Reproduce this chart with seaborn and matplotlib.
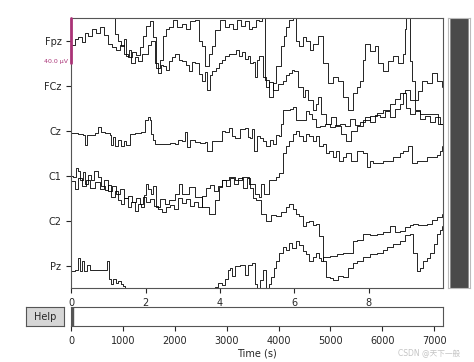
import numpy as np
import pandas as pd
import matplotlib
matplotlib.use('Agg')
import matplotlib.pyplot as plt
import seaborn as sns

# channel names, top to bottom
channels = ['Fpz', 'FCz', 'Cz', 'C1', 'C2', 'Pz']
scale_uv = 40.0          # one channel spacing = 40 uV
raw_duration = 7173      # seconds in the recording
view_window = (0, 10)    # seconds currently shown

# traces (time in s, amplitude in uV)
fpz_t = [0.00, 0.11, 0.19, 0.30, 0.38, 0.46, 0.56, 0.67, 0.78, 0.89, 0.99, 1.10, 1.21, 1.32, 1.42,
         1.53, 1.64, 1.75, 1.85, 1.94, 2.02, 2.12, 2.20, 2.28, 2.39, 2.47, 2.55, 2.63, 2.74, 2.85,
         2.98, 3.09, 3.20, 3.33, 3.44, 3.52, 3.60, 3.71, 3.79, 3.87, 4.01, 4.14, 4.25, 4.35, 4.46,
         4.57, 4.68, 4.78, 4.87, 4.97, 5.05, 5.13, 5.22, 5.32, 5.43, 5.51, 5.65, 5.73, 5.78, 5.86,
         5.97, 6.05, 6.13, 6.24, 6.32, 6.42, 6.51, 6.64, 6.77, 6.91, 7.04, 7.18, 7.31, 7.45, 7.58,
         7.69, 7.77, 7.85, 7.90, 8.04, 8.17, 8.25, 8.39, 8.52, 8.66, 8.79, 8.92, 8.98, 9.01, 9.06,
         9.11, 9.17, 9.25, 9.33, 9.44, 9.57, 9.70, 9.84, 9.97]
fpz_uv = [-4, 1, 3, -1, 7, 4, 10, 7, 12, 5, -3, -6, -8, -4, -12,
          -15, -10, -13, -6, 4, 13, 17, 3, -24, -17, 4, 10, 12, 18, 12,
          15, 10, 17, 18, 0, -5, -23, -12, -5, 9, 18, 12, 15, 10, 18,
          13, 17, 10, 12, 18, 17, 24, -35, -50, -38, -23, -5, 4, 12, 18,
          22, 0, -5, 3, 0, -8, -3, 4, -20, -38, -32, -36, -50, -62, -47,
          -41, -36, -17, -3, -9, -5, -20, -27, -18, -14, -20, -12, 10, 32, 32,
          -18, -36, -53, -45, -36, -38, -29, -36, -41]

fcz_t = [0.00, 0.24, 0.51, 0.78, 0.99, 1.05, 1.18, 1.26, 1.34, 1.42, 1.48, 1.56, 1.61, 1.72, 1.80,
         1.91, 1.99, 2.07, 2.15, 2.26, 2.34, 2.42, 2.47, 2.55, 2.63, 2.72, 2.80, 2.90, 2.98, 3.09,
         3.17, 3.25, 3.33, 3.44, 3.52, 3.60, 3.66, 3.74, 3.79, 3.90, 3.98, 4.06, 4.14, 4.25, 4.33,
         4.44, 4.52, 4.60, 4.68, 4.76, 4.81, 4.89, 4.95, 5.00, 5.05, 5.16, 5.24, 5.32, 5.43, 5.56,
         5.70, 5.78, 5.86, 5.94, 5.99, 6.10, 6.24, 6.29, 6.37, 6.51, 6.59, 6.64, 6.72, 6.85, 6.99,
         7.12, 7.26, 7.39, 7.53, 7.69, 7.85, 8.04, 8.23, 8.39, 8.58, 8.71, 8.84, 8.98, 9.11, 9.25,
         9.38, 9.57, 9.78, 9.87, 10.0]
fcz_uv = [72, 68, 76, 69, 66, 60, 46, 40, 35, 41, 26, 32, 20, 25, 22,
          28, 28, 36, 40, 20, 11, 18, 17, 14, 22, 25, 28, 23, 22, 18,
          13, 21, 20, 10, 4, 12, -4, 9, 13, 16, 20, 23, 26, 28, 28,
          32, 26, 30, 24, 26, 20, 21, 8, 23, 26, 8, -1, 3, -4, 1,
          4, 9, 11, 14, 13, -1, -10, -4, -13, -22, -16, -10, -25, -34, -28,
          -36, -43, -49, -40, -36, -31, -27, -24, -22, -16, -12, -7, -4, -13, -22,
          -25, -25, -25, -34, -34]

cz_t = [0.00, 0.19, 0.32, 0.38, 0.43, 0.51, 0.65, 0.73, 0.81, 0.91, 1.05, 1.08, 1.13, 1.18, 1.26,
        1.34, 1.42, 1.48, 1.53, 1.59, 1.72, 1.88, 1.99, 2.07, 2.12, 2.15, 2.20, 2.26, 2.39, 2.53,
        2.66, 2.80, 2.88, 2.98, 3.06, 3.12, 3.20, 3.33, 3.47, 3.60, 3.66, 3.79, 3.98, 4.06, 4.14,
        4.25, 4.33, 4.41, 4.54, 4.68, 4.76, 4.81, 4.87, 4.92, 5.00, 5.08, 5.16, 5.24, 5.35, 5.43,
        5.51, 5.59, 5.65, 5.70, 5.78, 5.89, 5.97, 6.05, 6.16, 6.24, 6.32, 6.40, 6.48, 6.59, 6.69,
        6.83, 6.96, 7.10, 7.23, 7.37, 7.50, 7.63, 7.77, 7.90, 8.04, 8.17, 8.31, 8.44, 8.58, 8.71,
        8.84, 8.92, 9.01, 9.11, 9.25, 9.38, 9.52, 9.65, 9.78, 9.92, 10.0]
cz_uv = [-2, -3, -4, -13, -4, -4, -2, 3, -1, -2, -4, -13, -6, -14, -8,
         -14, -9, -13, -13, -3, -2, -1, 9, 12, 9, -3, -8, -12, -12, -12,
         -11, -12, -8, -9, -1, -15, -8, -10, -11, -10, -18, -9, -9, 0, -1,
         2, -5, -7, 1, 2, -6, -7, 1, -18, -5, -7, -9, -14, -8, -12,
         -4, -5, 6, 18, 18, 19, 21, 9, 9, 9, 17, 15, 10, 3, 4,
         6, 3, 5, 6, 4, 10, 5, 8, 12, 8, 14, 12, 17, 12, 19,
         24, 33, 20, 15, 17, 10, 13, 8, 12, 6, 10]

c1_t = [0.00, 0.05, 0.13, 0.19, 0.24, 0.32, 0.38, 0.46, 0.54, 0.62, 0.73, 0.81, 0.91, 0.99, 1.08,
        1.18, 1.26, 1.34, 1.42, 1.53, 1.61, 1.72, 1.80, 1.88, 1.96, 2.02, 2.07, 2.15, 2.20, 2.28,
        2.39, 2.53, 2.63, 2.80, 2.90, 2.98, 3.17, 3.33, 3.52, 3.71, 3.87, 3.98, 4.06, 4.25, 4.41,
        4.60, 4.78, 4.95, 5.05, 5.11, 5.19, 5.32, 5.51, 5.59, 5.70, 5.78, 5.86, 5.97, 6.05, 6.13,
        6.24, 6.32, 6.40, 6.51, 6.59, 6.67, 6.77, 6.85, 6.94, 7.04, 7.12, 7.20, 7.31, 7.39, 7.53,
        7.69, 7.85, 7.96, 8.04, 8.12, 8.39, 8.66, 8.84, 8.92, 9.06, 9.17, 9.30, 9.57, 9.84, 9.92,
        9.97]
c1_uv = [0, -1, 7, 4, -4, 3, -7, 1, -4, 4, -1, -9, -13, -8, -19,
         -14, -22, -25, -20, -28, -23, -31, -25, -28, -17, -7, -12, -16, -9, -28,
         -21, -25, -22, -16, -7, -16, -10, -19, -28, -34, -22, -10, -4, -1, -4,
         -1, -7, -16, -19, -7, -16, -4, -1, 2, 20, 26, 31, 37, 40, 35,
         31, 37, 35, 31, 35, 26, 28, 20, 22, 17, 22, 13, 17, 20, 13,
         22, 20, 8, 13, 11, 13, 17, 20, 22, 26, 11, 13, 17, 18, 22,
         26]

c2_t = [0.00, 0.11, 0.19, 0.30, 0.40, 0.51, 0.65, 0.78, 0.89, 0.99, 1.10, 1.21, 1.32, 1.42, 1.53,
        1.64, 1.75, 1.85, 1.94, 2.02, 2.12, 2.23, 2.34, 2.45, 2.55, 2.66, 2.77, 2.88, 2.98, 3.09,
        3.20, 3.31, 3.41, 3.52, 3.63, 3.74, 3.84, 3.95, 4.06, 4.17, 4.27, 4.38, 4.49, 4.62, 4.73,
        4.81, 4.89, 4.97, 5.11, 5.24, 5.38, 5.51, 5.65, 5.78, 5.86, 5.97, 6.05, 6.13, 6.24, 6.32,
        6.40, 6.51, 6.59, 6.67, 6.77, 6.85, 6.96, 7.04, 7.18, 7.31, 7.45, 7.58, 7.69, 7.85, 8.04,
        8.23, 8.39, 8.49, 8.66, 8.84, 8.98, 9.11, 9.19, 9.30, 9.38, 9.46, 9.57, 9.65, 9.76, 9.84,
        9.92, 9.97]
c2_uv = [35, 28, 38, 31, 36, 29, 34, 28, 36, 26, 31, 24, 28, 20, 22,
         17, 20, 15, 21, 17, 19, 13, 10, 8, 12, 14, 10, 20, 16, 19,
         13, 17, 12, 22, 29, 32, 26, 31, 36, 31, 38, 33, 38, 29, 38,
         29, 20, 18, 6, 0, 5, 4, 8, 12, 15, 10, 6, 4, -5, -1,
         0, -4, -3, -14, -36, -50, -51, -53, -49, -50, -42, -38, -36, -32, -30,
         -29, -26, -23, -21, -18, -13, -12, -29, -45, -42, -36, -33, -29, -21, -12,
         -8, -5]

pz_t = [0.00, 0.11, 0.19, 0.24, 0.30, 0.35, 0.43, 0.51, 0.62, 0.78, 0.91, 0.97, 1.02, 1.08, 1.13,
        1.21, 1.26, 1.34, 1.40, 1.45, 1.59, 2.39, 3.47, 3.79, 3.87, 3.95, 4.06, 4.14, 4.22, 4.27,
        4.33, 4.41, 4.54, 4.68, 4.76, 4.87, 4.95, 5.00, 5.08, 5.16, 5.24, 5.32, 5.38, 5.46, 5.51,
        5.59, 5.70, 5.78, 5.86, 5.94, 6.05, 6.13, 6.24, 6.32, 6.40, 6.51, 6.59, 6.67, 6.72, 6.77,
        6.96, 7.15, 7.31, 7.47, 7.58, 7.69, 7.85, 8.04, 8.23, 8.39, 8.58, 8.71, 8.84, 8.98, 9.11,
        9.19, 9.33, 9.44, 9.57, 9.70, 9.84, 9.97]
pz_uv = [-5, -4, 7, -5, 4, -5, 1, -4, -4, -4, -4, 4, -12, -16, -12,
         -15, -14, -16, -18, -26, -30, -35, -30, -23, -19, -15, -17, -12, -4, -2,
         -9, 0, 1, -8, 1, 2, -16, -21, -13, -4, -20, -16, -10, -2, 4,
         11, 17, 14, 20, 16, 22, 18, 13, 10, 4, 8, 11, 7, 4, 8,
         9, 10, 11, 11, 22, 23, 28, 27, 28, 30, 35, 30, 31, 34, 36,
         37, 36, 36, 37, 41, 43, 46]

trace_t = [fpz_t, fcz_t, cz_t, c1_t, c2_t, pz_t]
trace_uv = [fpz_uv, fcz_uv, cz_uv, c1_uv, c2_uv, pz_uv]

x_ticks_main = [0, 2, 4, 6, 8]
x_ticks_scroll = [0, 1000, 2000, 3000, 4000, 5000, 6000, 7000]

sns.set_style('ticks')
plt.rcParams['font.family'] = ['DejaVu Sans', 'Noto Sans CJK SC']
plt.rcParams['font.size'] = 7
plt.rcParams['xtick.labelsize'] = 7
plt.rcParams['ytick.labelsize'] = 7

fig = plt.figure(figsize=(4.74, 3.62), dpi=100)
ax = fig.add_axes([0.150, 0.204, 0.785, 0.746])
ax_vs = fig.add_axes([0.945, 0.204, 0.046, 0.746])
ax_hs = fig.add_axes([0.150, 0.0994, 0.785, 0.0525])
ax_help = fig.add_axes([0.055, 0.0994, 0.080, 0.0525])

# data traces, stacked with channel offsets
rows = []
for i, name in enumerate(channels):
    for t, v in zip(trace_t[i], trace_uv[i]):
        rows.append({'ch': name, 'time': t, 'pos': (i + 1) - v / scale_uv})
df = pd.DataFrame(rows)
for name in channels:
    d = df[df['ch'] == name]
    sns.lineplot(data=d, x='time', y='pos', ax=ax, color='k', lw=0.6,
                 estimator=None, sort=False, drawstyle='steps-post')

ax.set_xlim(view_window)
ax.set_ylim(len(channels) + 0.5, 0.5)
ax.set_yticks(range(1, len(channels) + 1))
ax.set_yticklabels(channels)
ax.set_xticks(x_ticks_main)
ax.set_xlabel('')
ax.set_ylabel('')
for sp in ax.spines.values():
    sp.set_color('#555555')
    sp.set_linewidth(0.8)

# scale bar on the first channel
ax.plot([0, 0], [0.5, 1.5], color='#AA3377', lw=2, clip_on=False, zorder=5)
ax.text(-0.008, 1.46, f'{scale_uv:.1f} µV', color='#AA3377', fontsize=4.5,
        ha='right', va='center', transform=ax.get_yaxis_transform())

# vertical scroll bar
ax_vs.axhspan(0.5, len(channels) + 0.5, xmin=0.08, xmax=0.92,
              facecolor='#4a4a4a', edgecolor='#8a8a8a', lw=0.6)
ax_vs.set_ylim(len(channels) + 0.5, 0.5)
ax_vs.set_xticks([])
ax_vs.set_yticks([])
for sp in ax_vs.spines.values():
    sp.set_color('#bbbbbb')

# horizontal scroll bar
ax_hs.axvspan(view_window[0], view_window[1] + 30, color='#555555')
ax_hs.set_xlim(0, raw_duration)
ax_hs.set_xticks(x_ticks_scroll)
ax_hs.set_yticks([])
ax_hs.set_xlabel('Time (s)', fontsize=7, labelpad=2)
for sp in ax_hs.spines.values():
    sp.set_color('#555555')

# help button
ax_help.set_facecolor('#d6d6d6')
ax_help.set_xticks([])
ax_help.set_yticks([])
ax_help.text(0.5, 0.5, 'Help', ha='center', va='center', fontsize=7,
             transform=ax_help.transAxes)
for sp in ax_help.spines.values():
    sp.set_color('#555555')

fig.text(0.97, 0.027, 'CSDN @天下一般', ha='right', va='center', fontsize=5.5,
         color='#c4c4c4', family=['DejaVu Sans', 'Noto Sans CJK SC'])

fig.savefig('out.png', dpi=100)
